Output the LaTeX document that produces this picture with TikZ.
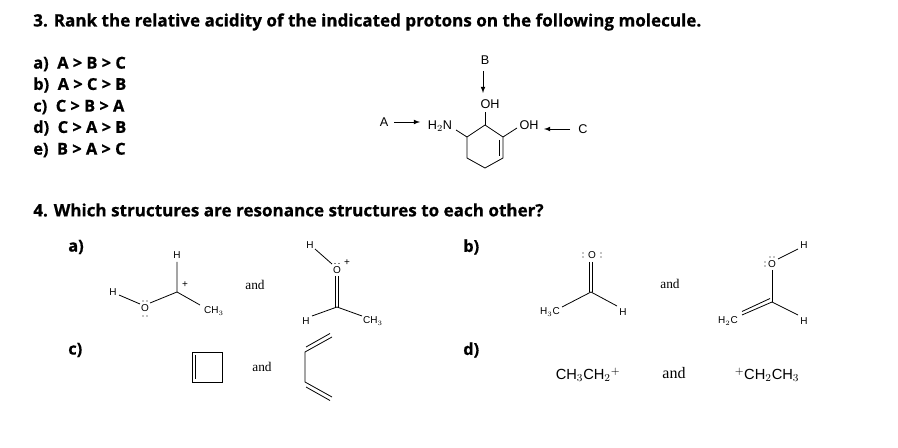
\documentclass[tikz,border=0pt]{standalone}
\usepackage{fontspec}
\setmainfont{Open Sans}[FakeBold=0.7]
\newfontfamily\arial{Liberation Sans}
\newfontfamily\tmsfont{Liberation Serif}
\begin{document}
\begin{tikzpicture}[x=0.75pt,y=-0.75pt,
  q/.style={anchor=west,font=\bfseries\fontsize{12.8}{15}\selectfont,inner sep=0},
  opt/.style={anchor=west,font=\bfseries\fontsize{12.3}{14}\selectfont,inner sep=0},
  atm/.style={font=\arial\fontsize{9.5}{11}\selectfont,inner sep=0},
  atm2/.style={font=\arial\fontsize{7.5}{9}\selectfont,inner sep=0},
  andl/.style={font=\tmsfont\fontsize{10}{12}\selectfont,inner sep=0},
  bd/.style={line width=0.6pt},
  lp/.style={fill,radius=0.55},
  arr/.style={line width=0.6pt,-latex}]
\useasboundingbox (0,0) rectangle (898,448);
\node[q] (q3) at (33,22) {3. Rank the relative acidity of the indicated protons on the following molecule.};
\node[opt] (oa) at (33,64) {a) \ A > B > C};
\node[opt] (ob) at (33,85) {b) \ A > C > B};
\node[opt] (oc) at (33,107) {c) \ C > B > A};
\node[opt] (od) at (33,128) {d) \ C > A > B};
\node[opt] (oe) at (33,150) {e) \ B > A > C};
% molecule
\coordinate (t) at (485,125); \coordinate (ur) at (503,137); \coordinate (lr) at (503,158);
\coordinate (bo) at (485,168); \coordinate (ll) at (467,158); \coordinate (ul) at (467,137);
\draw[bd] (t)--(ur)--(lr)--(bo)--(ll)--(ul)--cycle;
\draw[bd] (499,140)--(499,156);
\node[atm] (B) at (485,60) {B};
\node[atm] (oh1) at (490,104) {OH};
\node[atm] (A) at (384,122) {A};
\node[atm] (nh) at (440,126) {H$_2$N};
\node[atm] (oh2) at (529,125) {OH};
\node[atm] (C) at (583,129) {C};
\draw[bd] (t)--(485,112);
\draw[bd] (ur)--(517,128);
\draw[bd] (ul)--(456,130);
\draw[arr] (483,71) -- (483,93);
\draw[arr] (394,122) -- (420,122);
\draw[arr] (570,129) -- (544,129);
% Q4
\node[q] (q4) at (33,210) {4. Which structures are resonance structures to each other?};
\node[opt] (la) at (68,247) {a)};
\node[opt] (lb) at (463,247) {b)};
\node[opt] (lc) at (68,350) {c)};
\node[opt] (ld) at (463,350) {d)};
% a1
\node[atm2] (h1) at (113,292) {H};
\node[atm2] (o1) at (145,308) {O};
\fill (143,301) circle[radius=0.55] (147,301) circle[radius=0.55] (143,316) circle[radius=0.55] (147,316) circle[radius=0.55];
\node[atm2] (h2) at (177,255) {H};
\node[atm2] at (185,285) {+};
\node[atm2] (m1) at (214,311) {CH$_3$};
\coordinate (c1) at (177,292);
\draw[bd] (119,295)--(140,304);
\draw[bd] (150,303)--(c1)--(177,262);
\draw[bd] (c1)--(200,305);
\node[andl] (and1) at (255,285) {and};
% a2
\node[atm2] (h3) at (310,245) {H};
\node[atm2] (o2) at (337,270) {O};
\fill (335,263.5) circle[radius=0.55] (339,263.5) circle[radius=0.55];
\node[atm2] at (347,263) {+};
\coordinate (c2) at (337,307);
\draw[bd] (315,249)--(332,264);
\draw[bd] (335.5,276)--(335.5,307);
\draw[bd] (338.5,276)--(338.5,307);
\node[atm2] (h4) at (306,321) {H};
\node[atm2] (m2) at (373,321) {CH$_3$};
\draw[bd] (c2)--(312,316);
\draw[bd] (c2)--(362,316);
% b1
\node[atm2] (o3) at (592,255) {O};
\fill (583,253) circle[radius=0.55] (583,257) circle[radius=0.55] (601,253) circle[radius=0.55] (601,257) circle[radius=0.55];
\coordinate (c3) at (591,292);
\draw[bd] (589.5,262)--(589.5,292);
\draw[bd] (592.5,262)--(592.5,292);
\node[atm2] (m3) at (550,312) {H$_3$C};
\node[atm2] (h5) at (623,312) {H};
\draw[bd] (c3)--(562,307);
\draw[bd] (c3)--(617,306);
\node[andl] (and2) at (670,284) {and};
% b2
\node[atm2] (o4) at (772,264) {O};
\fill (765,262) circle[radius=0.55] (765,266) circle[radius=0.55] (770,257) circle[radius=0.55] (774,257) circle[radius=0.55];
\node[atm2] (h6) at (804,245) {H};
\draw[bd] (778,259)--(798,249);
\coordinate (c4) at (772,302);
\draw[bd] (772,270)--(c4);
\node[atm2] (m4) at (728,321) {H$_2$C};
\draw[bd] (c4)--(742,315);
\draw[bd] (770,298.5)--(742,311.5);
\node[atm2] (h7) at (804,321) {H};
\draw[bd] (c4)--(798,315);
% c
\draw[bd] (192,352) rectangle (222,382);
\draw[bd] (195.5,355)--(195.5,379);
\node[andl] (and3) at (262,367) {and};
\draw[bd] (332,337)--(305,352)--(305,382)--(332,397);
\draw[bd] (330,333.5)--(306,347);
\draw[bd] (330,400.5)--(306,387);
% d
\node[font=\arial\fontsize{11}{13}\selectfont,inner sep=0] (d1) at (588,375) {CH$_3$CH$_2$$^+$};
\node[andl,font=\tmsfont\fontsize{12}{14}\selectfont] (and4) at (674,373) {and};
\node[font=\arial\fontsize{11}{13}\selectfont,inner sep=0] (d2) at (767,375) {$^+$CH$_2$CH$_3$};
\end{tikzpicture}
\end{document}
